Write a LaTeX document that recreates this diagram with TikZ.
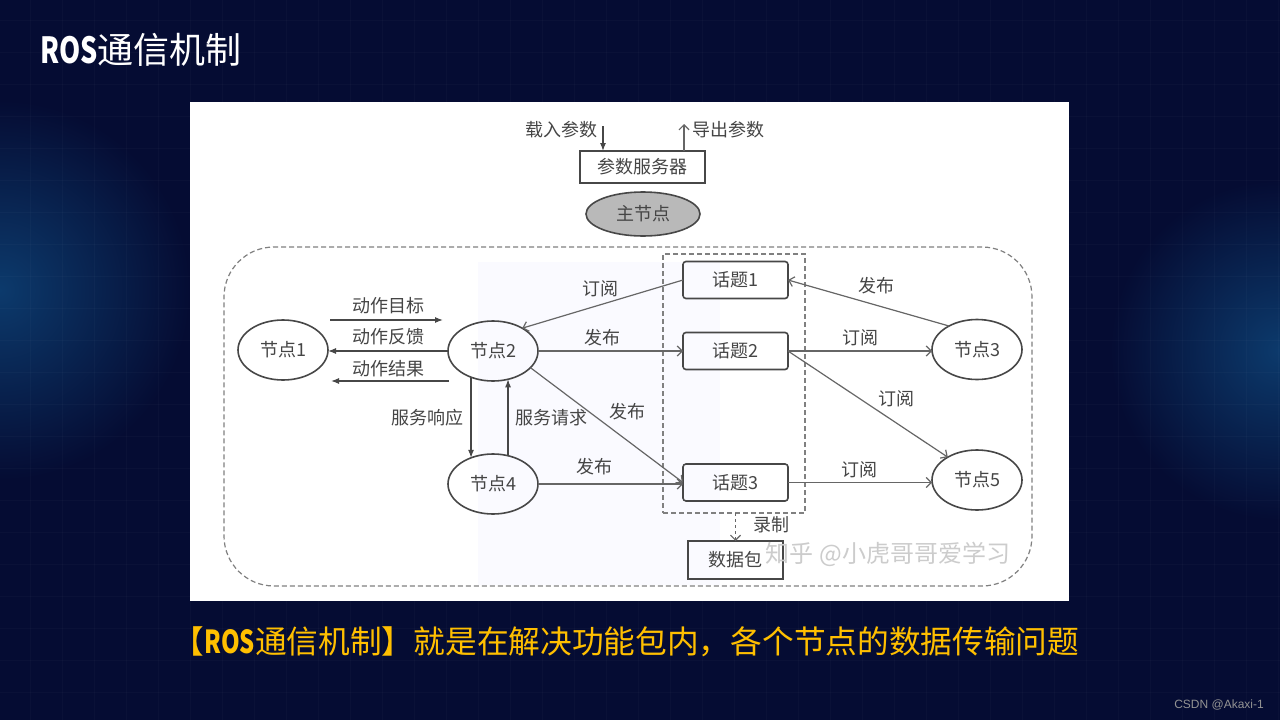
\documentclass[tikz,border=0pt]{standalone}
\usepackage{fontspec}
\setmainfont{Noto Sans CJK SC}
\newfontfamily\creditfont{Liberation Sans}
\newfontfamily\rosfont[FakeStretch=0.75]{Noto Sans CJK SC}
\usetikzlibrary{calc, shapes.geometric, positioning, arrows.meta}
\definecolor{navybg}{HTML}{050C33}
\definecolor{glowblue}{HTML}{0C3A6C}
\definecolor{goldtext}{HTML}{FFBF00}
\definecolor{inktext}{HTML}{454545}
\definecolor{inkline}{HTML}{666666}
\tikzset{
  fnt/.style={font=\fontsize{#1}{#1}\selectfont},
  lab/.style={fnt=18, text=inktext, inner sep=0pt},
  nodeell/.style={ellipse, draw=inkline!70!black, line width=1.6pt, minimum width=90pt, minimum height=60pt, inner sep=0pt, outer sep=0pt, fnt=18, text=inktext},
  topicbox/.style={rectangle, rounded corners=3pt, draw=inkline!70!black, line width=1.6pt, minimum width=105pt, minimum height=37pt, inner sep=0pt, outer sep=0pt, fnt=18, text=inktext},
  plainbox/.style={rectangle, draw=inkline!70!black, line width=1.6pt, inner sep=0pt, outer sep=0pt, fnt=18, text=inktext},
  dashbox/.style={rectangle, draw=gray, dash pattern=on 5pt off 3pt, line width=1.2pt, inner sep=0pt, outer sep=0pt},
  flow/.style={-{Straight Barb[length=5pt,width=10pt]}, draw=inkline, line width=1.2pt},
  solidflow/.style={-{Latex[length=8pt,width=6pt]}, draw=inkline!70!black, line width=1.2pt},
}
\begin{document}
\begin{tikzpicture}[x=1pt,y=-1pt]
\useasboundingbox (0,0) rectangle (1280,720);
\fill[navybg] (0,0) rectangle (1280,720);
% glow at both sides
\begin{scope}
\clip (0,0) rectangle (1280,720);
\shade[inner color=glowblue, outer color=navybg] (0,290) circle (190);
\shade[inner color=glowblue, outer color=navybg] (1280,350) circle (170);
\draw[white, opacity=0.025, line width=0.8pt] \foreach \x in {30,62,...,1280} {(\x,0) -- (\x,720)};
\draw[white, opacity=0.025, line width=0.8pt] \foreach \y in {20,52,...,720} {(0,\y) -- (1280,\y)};
\end{scope}
\node[anchor=west, fnt=36, text=white, inner sep=0pt] (title) at (40,50) {{\rosfont\bfseries ROS}通信机制};
\node[fnt=31.7, text=goldtext, inner sep=0pt] (caption) at (626,642) {【{\rosfont\bfseries ROS}通信机制】就是在解决功能包内，各个节点的数据传输问题};
\node[anchor=east, fnt=12, text=gray!85, inner sep=0pt] (credit) at (1264,705) {\creditfont CSDN @Akaxi-1};
% the figure
\fill[white] (190,102) rectangle (1069,601);
\fill[blue!2] (478,262) rectangle (720,585);
\node[dashbox, rounded corners=50pt, minimum width=808pt, minimum height=339pt] (group) at (628,416.5) {};
\node[dashbox, minimum width=142pt, minimum height=259pt] (topics) at (734,383.5) {};
\node[plainbox, minimum width=125pt, minimum height=32pt] (param) at (642.5,167) {参数服务器};
\node[ellipse, draw=inkline!70!black, fill=gray!55, line width=1.6pt, minimum width=114pt, minimum height=44pt, inner sep=0pt, fnt=18, text=inktext] (master) at (643,214) {主节点};
\node[nodeell] (nodeA) at (283,350) {节点1};
\node[nodeell] (nodeB) at (493,351) {节点2};
\node[nodeell] (nodeC) at (977,349.5) {节点3};
\node[nodeell] (nodeD) at (493,484) {节点4};
\node[nodeell] (nodeE) at (977,480) {节点5};
\node[topicbox] (topicA) at (735.5,280) {话题1};
\node[topicbox] (topicB) at (735.5,351) {话题2};
\node[topicbox] (topicC) at (735.5,482.5) {话题3};
\node[plainbox, minimum width=95pt, minimum height=38pt] (bag) at (735.5,560) {数据包};
% free ends
\coordinate (loadtop) at (603,126);
\coordinate (savetop) at (684,124);
\coordinate (goalstart) at (330,320);
\coordinate (goalend) at (443,320);
\coordinate (resstart) at (449,381);
\coordinate (resend) at (331,381);
% connectors
\draw[solidflow] (loadtop) -- (param.north -| loadtop);
\draw[flow] (param.north -| savetop) -- (savetop);
\draw[solidflow] (goalstart) -- (goalend);
\draw[solidflow] (nodeB.west) -- (nodeA.east |- nodeB.west);
\draw[solidflow] (resstart) -- (resend);
\draw[solidflow] (nodeB.-130) -- (nodeD.130);
\draw[solidflow] (nodeD.62) -- (nodeB.-62);
\draw[flow] (topicA.west) -- (nodeB.38);
\draw[flow] (nodeB.east) -- (topicB.west);
\draw[flow] (nodeB.-24) -- (topicC.west);
\draw[flow] (nodeD.east) -- (topicC.west |- nodeD.east);
\draw[flow] (nodeC.140) -- (topicA.east);
\draw[flow] (topicB.east) -- (nodeC.west |- topicB.east);
\draw[flow] (topicB.east) -- (nodeE.142);
\draw[flow] (topicC.east) -- (nodeE.west |- topicC.east);
\draw[flow, dashed] (topics.south -| bag) -- (bag.north);
% labels
\foreach \px/\py/\txt [count=\i] in {561/130/载入参数, 728/130/导出参数, 388/306/动作目标, 388/337/动作反馈, 388/369/动作结果, 427/418/服务响应, 551/418/服务请求, 600/289/订阅, 602/338/发布, 627/412/发布, 594/467/发布, 876/286/发布, 860/338/订阅, 896/399/订阅, 859/470/订阅, 771/525/录制} {
  \node[lab] (lab\i) at (\px,\py) {\txt};
}
\node[fnt=24, text=gray!40, inner sep=0pt] (mark) at (888,554) {知乎 @小虎哥哥爱学习};
\end{tikzpicture}
\end{document}
